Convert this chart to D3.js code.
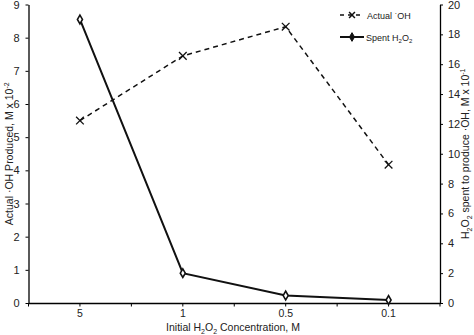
<!DOCTYPE html>
<html><head><meta charset="utf-8">
<script src="https://cdn.jsdelivr.net/npm/d3@7/dist/d3.min.js"></script>
<style>body{margin:0;background:#fff}svg{display:block;font-family:"Liberation Sans",Arial,sans-serif}</style>
</head><body><svg id="c" width="474" height="335"></svg>
<script>
const categories = ["5", "1", "0.5", "0.1"];
const actualOH = [5.5, 7.45, 8.33, 4.17];
const spentH2O2 = [19.0, 2.0, 0.5, 0.2];
const leftTicks = [0,1,2,3,4,5,6,7,8,9];
const rightTicks = [0,2,4,6,8,10,12,14,16,18,20];

const svg = d3.select("#c");
const L = 28.5, R = 440, T = 4.5, B = 303;
const x = d3.scaleBand().domain(categories).range([L, R]).padding(0);
const yL = d3.scaleLinear().domain([0, 9]).range([B, T]);
const yR = d3.scaleLinear().domain([0, 20]).range([B, T]);
const cx = c => x(c) + x.bandwidth() / 2;

// axes
const gx = svg.append("g").attr("transform", `translate(0,${B})`)
  .call(d3.axisBottom(x).tickSize(0).tickPadding(7));
gx.select(".domain").attr("stroke", "#000").attr("stroke-width", 1.3);
gx.selectAll("text").attr("font-size", 10.5).attr("fill", "#222");
const tpos = [];
categories.forEach(c => { tpos.push(x(c)); tpos.push(cx(c)); });
tpos.push(R);
gx.selectAll("line.tk").data(tpos).join("line").attr("class","tk")
  .attr("x1", d => d).attr("x2", d => d).attr("y1", 0).attr("y2", 3.5)
  .attr("stroke", "#000").attr("stroke-width", 1);

const gl = svg.append("g").attr("transform", `translate(${L},0)`)
  .call(d3.axisLeft(yL).tickValues(leftTicks).tickSize(3).tickPadding(6).tickSizeOuter(0));
gl.select(".domain").attr("stroke", "#000").attr("stroke-width", 1.3);
gl.selectAll("text").attr("font-size", 11).attr("fill", "#222");

const gr = svg.append("g").attr("transform", `translate(${R},0)`)
  .call(d3.axisRight(yR).tickValues(rightTicks).tickSize(3).tickPadding(5).tickSizeOuter(0));
gr.select(".domain").attr("stroke", "#000").attr("stroke-width", 1.3);
gr.selectAll("text").attr("font-size", 11).attr("fill", "#222");

// axis titles
const lt = svg.append("text").attr("transform", `translate(13,${(T+B)/2}) rotate(-90)`)
  .attr("text-anchor", "middle").attr("font-size", 10.5).attr("fill", "#222");
lt.append("tspan").text("Actual ·OH Produced, M x 10");
lt.append("tspan").attr("font-size", 7).attr("dy", -4).text("-2");

const rt = svg.append("text").attr("transform", `translate(469,${(T+B)/2}) rotate(-90)`)
  .attr("text-anchor", "middle").attr("font-size", 10.5).attr("fill", "#222");
rt.append("tspan").text("H");
rt.append("tspan").attr("font-size", 7).attr("dy", 3).text("2");
rt.append("tspan").attr("dy", -3).text("O");
rt.append("tspan").attr("font-size", 7).attr("dy", 3).text("2");
rt.append("tspan").attr("dy", -3).text(" spent to produce ·OH, M x 10");
rt.append("tspan").attr("font-size", 7).attr("dy", -4).text("-1");

const xt = svg.append("text").attr("x", 233).attr("y", 331)
  .attr("text-anchor", "middle").attr("font-size", 10.5).attr("fill", "#222");
xt.append("tspan").text("Initial H");
xt.append("tspan").attr("font-size", 7).attr("dy", 2.5).text("2");
xt.append("tspan").attr("dy", -2.5).text("O");
xt.append("tspan").attr("font-size", 7).attr("dy", 2.5).text("2");
xt.append("tspan").attr("dy", -2.5).text(" Concentration, M");

// series
const lineL = d3.line().x((d, i) => cx(categories[i])).y(d => yL(d));
const lineR = d3.line().x((d, i) => cx(categories[i])).y(d => yR(d));

svg.append("path").attr("d", lineL(actualOH)).attr("fill", "none")
  .attr("stroke", "#111").attr("stroke-width", 1.5).attr("stroke-dasharray", "5,4");
svg.append("path").attr("d", lineR(spentH2O2)).attr("fill", "none")
  .attr("stroke", "#111").attr("stroke-width", 2);

const cross = d3.symbol().type(d3.symbolX).size(40);
const diamond = d3.symbol().type(d3.symbolDiamond).size(22);

svg.selectAll("path.xm").data(actualOH).join("path").attr("class","xm")
  .attr("transform", (d, i) => `translate(${cx(categories[i])},${yL(d)})`)
  .attr("d", cross).attr("fill", "none").attr("stroke", "#111").attr("stroke-width", 1.3);
svg.selectAll("path.dm").data(spentH2O2).join("path").attr("class","dm")
  .attr("transform", (d, i) => `translate(${cx(categories[i])},${yR(d)})`)
  .attr("d", diamond).attr("fill", "#fff").attr("stroke", "#111").attr("stroke-width", 1.6);

// legend
const lg = svg.append("g");
lg.append("line").attr("x1", 340).attr("x2", 364).attr("y1", 15).attr("y2", 15)
  .attr("stroke", "#111").attr("stroke-width", 1.5).attr("stroke-dasharray", "4,4");
lg.append("path").attr("transform", "translate(352,15)").attr("d", d3.symbol().type(d3.symbolX).size(24))
  .attr("fill", "none").attr("stroke", "#111").attr("stroke-width", 1.5);
const l1 = lg.append("text").attr("x", 367).attr("y", 18.5).attr("font-size", 9).attr("fill", "#222");
l1.append("tspan").text("Actual  ");
l1.append("tspan").attr("dy", -3).attr("font-size", 8).text("·");
l1.append("tspan").attr("dy", 3).text("OH");

lg.append("line").attr("x1", 340).attr("x2", 364).attr("y1", 37).attr("y2", 37)
  .attr("stroke", "#111").attr("stroke-width", 2);
lg.append("path").attr("transform", "translate(352,37)").attr("d", d3.symbol().type(d3.symbolDiamond).size(22))
  .attr("fill", "#111").attr("stroke", "#111").attr("stroke-width", 1);
const l2 = lg.append("text").attr("x", 366).attr("y", 40.5).attr("font-size", 9).attr("fill", "#222");
l2.append("tspan").text("Spent H");
l2.append("tspan").attr("font-size", 6).attr("dy", 2).text("2");
l2.append("tspan").attr("dy", -2).text("O");
l2.append("tspan").attr("font-size", 6).attr("dy", 2).text("2");
</script></body></html>
